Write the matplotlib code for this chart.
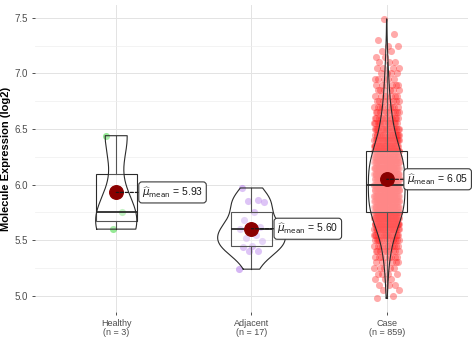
import numpy as np
import matplotlib.pyplot as plt

plt.rcParams['font.family'] = ['Liberation Sans', 'DejaVu Sans']
plt.rcParams['mathtext.fontset'] = 'dejavusans'

# Data
groups = ['Healthy', 'Adjacent', 'Case']
healthy = [6.44, 5.75, 5.60]
adjacent = [5.97, 5.86, 5.85, 5.84, 5.75, 5.68, 5.62, 5.60, 5.60,
            5.55, 5.52, 5.49, 5.45, 5.44, 5.40, 5.40, 5.24]
# Case (n = 859): expression levels and number of samples at each level
case_levels = [4.98, 5.00, 5.05, 5.10, 5.15, 5.20, 5.25, 5.30, 5.35, 5.40,
               5.45, 5.50, 5.55, 5.60, 5.65, 5.70, 5.75, 5.80, 5.85, 5.90,
               5.95, 6.00, 6.05, 6.10, 6.15, 6.20, 6.25, 6.30, 6.35, 6.40,
               6.45, 6.50, 6.55, 6.60, 6.65, 6.70, 6.75, 6.80, 6.85, 6.90,
               6.95, 7.00, 7.05, 7.10, 7.15, 7.20, 7.25, 7.30, 7.35, 7.49]
case_counts = [1, 1, 2, 3, 3, 4, 5, 6, 8, 10,
               12, 15, 19, 24, 30, 35, 39, 41, 43, 43,
               43, 43, 43, 43, 42, 41, 37, 33, 28, 23,
               20, 18, 15, 13, 11, 10, 8, 7, 6, 6,
               5, 4, 4, 3, 2, 2, 2, 1, 1, 1]
case = np.repeat(case_levels, case_counts)

data = [np.array(healthy), np.array(adjacent), case]
colors = ['#3fd83f', '#a35ee8', '#ff2b2b']
point_alpha = [0.55, 0.45, 0.4]


def violin_shape(vals):
    """KDE как в ggplot (bw.nrd0), обрезанная по min/max"""
    n = len(vals)
    sd = vals.std(ddof=1)
    q75, q25 = np.percentile(vals, [75, 25])
    bw = 0.9 * min(sd, (q75 - q25) / 1.34) * n ** -0.2
    ys = np.linspace(vals.min(), vals.max(), 512)
    dens = np.exp(-0.5 * ((ys[:, None] - vals[None, :]) / bw) ** 2).sum(1)
    dens = dens / (n * bw * np.sqrt(2 * np.pi))
    return ys, dens


fig = plt.figure(figsize=(4.74, 3.55), dpi=100)
ax = fig.add_axes([0.074, 0.121, 0.913, 0.865])

# Точки с детерминированным джиттером
for i, vals in enumerate(data):
    idx = np.arange(len(vals))
    jitter = ((idx * 0.618034 + 0.12) % 1.0) * 2 - 1
    xs = i + 1 + jitter * 0.095
    ax.scatter(xs, vals, s=26, color=colors[i], alpha=point_alpha[i],
               linewidths=0, zorder=2)

# Боксплоты
ax.boxplot(data, positions=[1, 2, 3], widths=0.3, whis=1.5, showfliers=False,
           showcaps=False, patch_artist=True,
           boxprops=dict(facecolor=(1, 1, 1, 0.3), edgecolor='#2b2b2b', linewidth=0.8),
           medianprops=dict(color='#2b2b2b', linewidth=1.3),
           whiskerprops=dict(color='#2b2b2b', linewidth=0.8), zorder=3)

# Скрипки (scale = area, ширина 0.5)
shapes = [violin_shape(v) for v in data]
dmax = max(d.max() for _, d in shapes)
for i, (ys, d) in enumerate(shapes):
    hw = d / dmax * 0.25
    x0 = i + 1
    ax.fill_betweenx(ys, x0 - hw, x0 + hw, facecolor='white', alpha=0.2,
                     edgecolor='none', zorder=3)
    px = np.concatenate([x0 - hw, (x0 + hw)[::-1], [x0 - hw[0]]])
    py = np.concatenate([ys, ys[::-1], [ys[0]]])
    ax.plot(px, py, color='#2b2b2b', lw=0.8, zorder=4)

# Средние и подписи
offsets = [0.19, 0.19, 0.15]
for i, vals in enumerate(data):
    m = vals.mean()
    ax.scatter(i + 1, m, s=95, color='#8b0000', zorder=5)
    ax.annotate(r'$\widehat{\mu}_{\mathrm{mean}}$' + ' = %.2f' % m,
                xy=(i + 1, m), xytext=(i + 1 + offsets[i], m),
                ha='left', va='center', fontsize=7.5, color='#1a1a1a', zorder=6,
                bbox=dict(boxstyle='round,pad=0.3,rounding_size=0.3', fc='white',
                          ec='#3a3a3a', lw=0.8),
                arrowprops=dict(arrowstyle='-', linestyle=(0, (2.5, 1.5)),
                                color='#1a1a1a', lw=0.9, shrinkA=0, shrinkB=0))

# Оформление осей
allv = np.concatenate(data)
span = allv.max() - allv.min()
ax.set_ylim(allv.min() - 0.05 * span, allv.max() + 0.05 * span)
ax.set_xlim(0.4, 3.6)
ax.set_yticks([5.0, 5.5, 6.0, 6.5, 7.0, 7.5])
ax.set_yticks([5.25, 5.75, 6.25, 6.75, 7.25], minor=True)
ax.set_xticks([1, 2, 3])
ax.set_xticklabels(['%s\n(n = %d)' % (g, len(v)) for g, v in zip(groups, data)],
                   linespacing=1.0)
ax.grid(which='major', color='#e3e3e3', lw=0.7, zorder=0)
ax.grid(which='minor', axis='y', color='#eeeeee', lw=0.5, zorder=0)
ax.set_axisbelow(True)
for s in ax.spines.values():
    s.set_visible(False)
ax.tick_params(axis='both', which='major', length=2, width=0.6, color='#333333',
               labelsize=7, labelcolor='#4d4d4d', pad=3)
ax.tick_params(axis='x', which='major', labelsize=6.5)
ax.tick_params(axis='y', which='minor', length=0)
ax.set_ylabel('Molecule Expression (log2)', fontsize=8, fontweight='bold')
ax.yaxis.set_label_coords(-0.055, 0.5)

fig.savefig('out.png', dpi=100)
